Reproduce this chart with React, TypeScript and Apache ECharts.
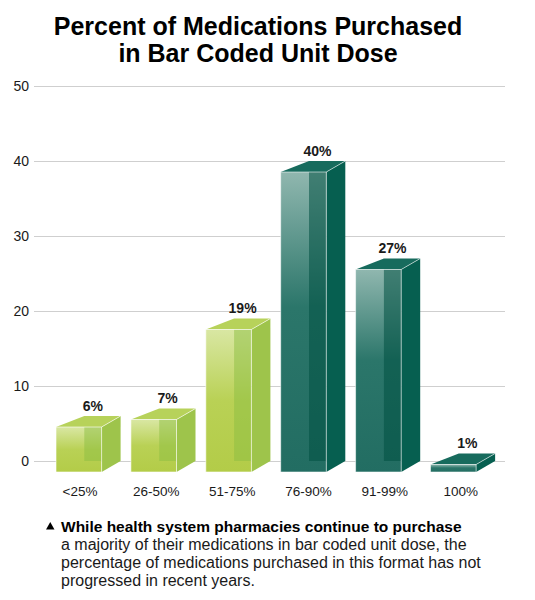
import React, { useEffect, useRef } from "react";
import * as echarts from "echarts";

// chart data
const categories = ["<25%", "26-50%", "51-75%", "76-90%", "91-99%", "100%"];
const values = [6, 7, 19, 40, 27, 1];
const valueLabels = ["6%", "7%", "19%", "40%", "27%", "1%"];
const yMin = 0;
const yMax = 50;
const yStep = 10;

const titleLines = ["Percent of Medications Purchased", "in Bar Coded Unit Dose"];
const noteLead = "While health system pharmacies continue to purchase";
const noteLines = [
  "a majority of their medications in bar coded unit dose, the",
  "percentage of medications purchased in this format has not",
  "progressed in recent years.",
];

const FONT = "'Liberation Sans', Arial, Helvetica, sans-serif";

// 3d box geometry (pixels)
const FRONT_W = 45.6;
const DXL = 28.3; // back-left edge offset
const DXR = 19; // back-right edge offset
const DY = 11;

const green = {
  gradient: [
    { offset: 0, color: "#d9e7a3" },
    { offset: 0.5, color: "#b9d155" },
    { offset: 1, color: "#b3cc48" },
  ],
  inner: "rgba(140,190,65,0.5)",
  top: "#b7d25a",
  side: "#9ec44b",
  edge: "rgba(255,255,255,0.6)",
};

const teal = {
  gradient: [
    { offset: 0, color: "#90b7af" },
    { offset: 0.45, color: "#2b766a" },
    { offset: 1, color: "#226d62" },
  ],
  inner: "rgba(0,80,66,0.55)",
  top: "#176b5d",
  side: "#065f50",
  edge: "rgba(255,255,255,0.55)",
};

const renderBar = (params: any, api: any) => {
  const i = api.value(0);
  const v = api.value(1);
  const [cx, yv] = api.coord([i, v]);
  const y0 = api.coord([i, 0])[1];
  const c = i < 3 ? green : teal;
  const fl = cx - FRONT_W / 2;
  const fr = cx + FRONT_W / 2;
  const ft = yv + DY;
  const fb = y0 + DY;
  return {
    type: "group",
    children: [
      {
        type: "polygon",
        shape: { points: [[fr, ft], [fr + DXR, ft - DY], [fr + DXR, fb - DY], [fr, fb]] },
        style: { fill: c.side },
      },
      {
        type: "polygon",
        shape: { points: [[fl, ft], [fr, ft], [fr + DXR, ft - DY], [fl + DXL, ft - DY]] },
        style: { fill: c.top },
      },
      {
        type: "rect",
        shape: { x: fl, y: ft, width: FRONT_W, height: fb - ft },
        style: { fill: new echarts.graphic.LinearGradient(0, 0, 0, 1, c.gradient) },
      },
      {
        type: "rect",
        shape: { x: fl + DXL, y: ft, width: FRONT_W - DXL, height: Math.max(0, y0 - ft) },
        style: { fill: c.inner },
      },
      {
        type: "rect",
        shape: { x: fl, y: ft, width: FRONT_W, height: fb - ft },
        style: { fill: "none", stroke: c.edge, lineWidth: 1 },
      },
      {
        type: "line",
        shape: { x1: fr, y1: ft, x2: fr + DXR, y2: ft - DY },
        style: { stroke: c.edge, lineWidth: 1 },
      },
      {
        type: "text",
        style: {
          text: valueLabels[i],
          x: cx + 14,
          y: yv - 10.5,
          align: "center",
          verticalAlign: "middle",
          textAlign: "center",
          textVerticalAlign: "middle",
          font: `bold 14px ${FONT}`,
          fill: "#1a1a1a",
        },
      },
    ],
  };
};

const App = () => {
  const chartRef = useRef<HTMLDivElement>(null);

  useEffect(() => {
    const chart = echarts.init(chartRef.current, null, { renderer: "svg" });
    const hiddenY = { min: yMin, max: yMax, interval: yStep, show: false };
    const options = {
      animation: false,
      backgroundColor: "#ffffff",
      grid: [
        { left: 34, right: 30, top: 86, bottom: 139 }, // gridlines + y labels
        { left: 41.35, right: 44.25, top: 86, bottom: 139 }, // boxes
        { left: 41.9, right: 36.1, top: 86, bottom: 139 }, // category labels
      ],
      xAxis: [
        { gridIndex: 0, type: "category", data: categories, show: false },
        { gridIndex: 1, type: "category", data: categories, show: false },
        {
          gridIndex: 2,
          type: "category",
          data: categories,
          axisLine: { show: false },
          axisTick: { show: false },
          axisLabel: {
            margin: 30,
            verticalAlign: "middle",
            fontSize: 13.5,
            fontFamily: FONT,
            color: "#1a1a1a",
          },
        },
      ],
      yAxis: [
        {
          gridIndex: 0,
          type: "value",
          min: yMin,
          max: yMax,
          interval: yStep,
          axisLine: { show: false },
          axisTick: { show: false },
          axisLabel: { margin: 5, fontSize: 14, fontFamily: FONT, color: "#1a1a1a" },
          splitLine: { lineStyle: { color: "#cfcfcf", width: 1 } },
        },
        { gridIndex: 1, type: "value", ...hiddenY },
        { gridIndex: 2, type: "value", ...hiddenY },
      ],
      series: [
        {
          type: "custom",
          xAxisIndex: 1,
          yAxisIndex: 1,
          clip: false,
          data: values.map((v, i) => [i, v]),
          renderItem: renderBar,
        },
      ],
      graphic: [
        ...titleLines.map((t, k) => ({
          type: "text",
          x: 258,
          y: 26.3 + k * 26.7,
          style: {
            text: t,
            align: "center",
            verticalAlign: "middle",
            textAlign: "center",
            textVerticalAlign: "middle",
            font: `bold 25px ${FONT}`,
            fill: "#000000",
          },
        })),
        {
          type: "polygon",
          shape: { points: [[46, 529.5], [54.5, 529.5], [50.25, 522]] },
          style: { fill: "#000000" },
        },
        {
          type: "text",
          x: 61,
          y: 526.3,
          style: {
            text: noteLead,
            verticalAlign: "middle",
            textVerticalAlign: "middle",
            font: `bold 15.5px ${FONT}`,
            fill: "#000000",
          },
        },
        ...noteLines.map((t, k) => ({
          type: "text",
          x: 61,
          y: 544.4 + k * 18,
          style: {
            text: t,
            verticalAlign: "middle",
            textVerticalAlign: "middle",
            font: `16px ${FONT}`,
            fill: "#1a1a1a",
          },
        })),
      ],
    };
    chart.setOption(options);
    return () => {
      chart.dispose();
    };
  }, []);

  return (
    <div
      ref={chartRef}
      style={{ position: "fixed", left: 0, top: 0, width: 535, height: 600 }}
    />
  );
};

export default App;
